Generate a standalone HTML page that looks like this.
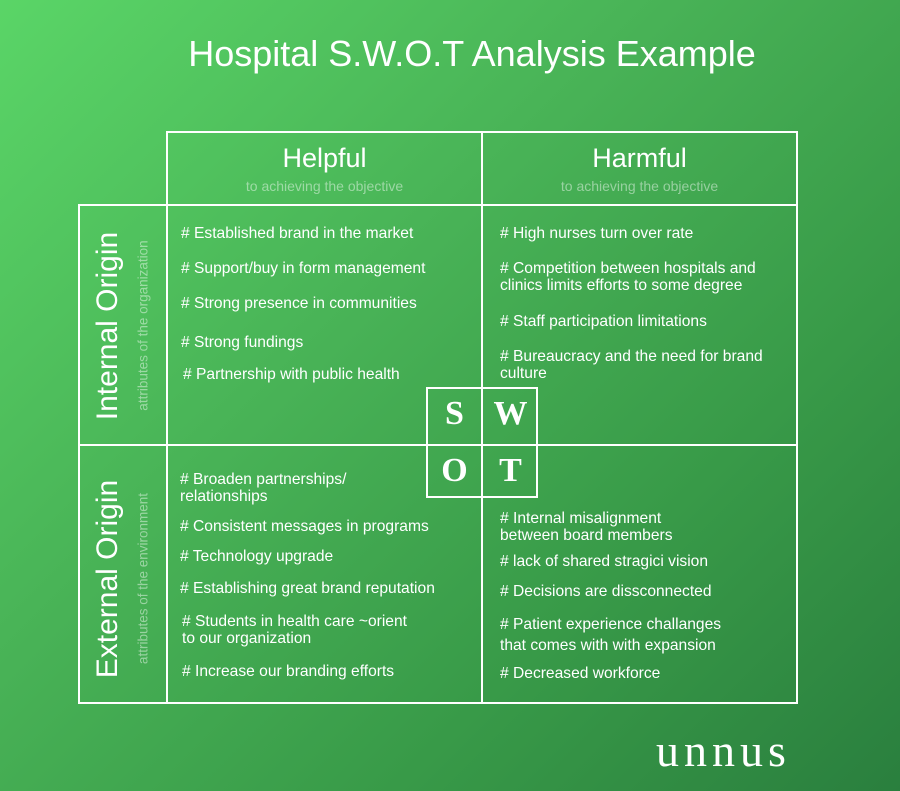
<!DOCTYPE html>
<html><head><style>
*{margin:0;padding:0;box-sizing:border-box}
body{width:900px;height:791px;overflow:hidden;position:relative;font-family:"Liberation Sans",sans-serif;color:#fff;
background:linear-gradient(135deg,#5ad567 0%,#48b256 40%,#389a48 70%,#2a7f3e 100%)}
.a{position:absolute;white-space:nowrap}
.l{position:absolute;background:#fff}
.t{font-size:15.6px;line-height:17px}
.h{font-size:27px;text-align:center;width:315px}
.s{font-size:14px;color:rgba(255,255,255,0.45);text-align:center;width:315px}
.v{position:absolute;transform:rotate(-90deg);transform-origin:center;text-align:center;width:400px}
.sw{position:absolute;font-family:"Liberation Serif",serif;font-weight:bold;font-size:34px;width:55px;text-align:center}
</style></head><body>
<div class="a" style="left:0;width:944px;top:33px;font-size:36px;text-align:center">Hospital S.W.O.T Analysis Example</div>
<div class="l" style="left:167px;top:131px;width:631px;height:2px"></div>
<div class="l" style="left:79px;top:204px;width:719px;height:2px"></div>
<div class="l" style="left:79px;top:444px;width:719px;height:2px"></div>
<div class="l" style="left:79px;top:702px;width:719px;height:2px"></div>
<div class="l" style="left:78px;top:204px;width:2px;height:500px"></div>
<div class="l" style="left:166px;top:131px;width:2px;height:573px"></div>
<div class="l" style="left:481px;top:131px;width:2px;height:573px"></div>
<div class="l" style="left:796px;top:131px;width:2px;height:573px"></div>
<div style="position:absolute;left:426px;top:387px;width:112px;height:111px;border:2px solid #fff"></div>
<div class="sw" style="left:427px;top:395px">S</div>
<div class="sw" style="left:483px;top:395px">W</div>
<div class="sw" style="left:427px;top:452px">O</div>
<div class="sw" style="left:483px;top:452px">T</div>
<div class="a h" style="left:167px;top:143px">Helpful</div>
<div class="a s" style="left:167px;top:178px">to achieving the objective</div>
<div class="a h" style="left:482px;top:143px">Harmful</div>
<div class="a s" style="left:482px;top:178px">to achieving the objective</div>
<div class="v" style="left:-92px;top:309px;font-size:30px;line-height:34px">Internal Origin</div>
<div class="v" style="left:-57px;top:318px;font-size:13.5px;color:rgba(255,255,255,0.45)">attributes of the organization</div>
<div class="v" style="left:-92px;top:562px;font-size:30px;line-height:34px">External Origin</div>
<div class="v" style="left:-57px;top:571px;font-size:13.5px;color:rgba(255,255,255,0.45)">attributes of the environment</div>
<div class="a t" style="left:181px;top:225px"># Established brand in the market</div>
<div class="a t" style="left:181px;top:260px"># Support/buy in form management</div>
<div class="a t" style="left:181px;top:295px"># Strong presence in communities</div>
<div class="a t" style="left:181px;top:334px"># Strong fundings</div>
<div class="a t" style="left:183px;top:366px"># Partnership with public health</div>
<div class="a t" style="left:500px;top:225px"># High nurses turn over rate</div>
<div class="a t" style="left:500px;top:260px"># Competition between hospitals and<br>clinics limits efforts to some degree</div>
<div class="a t" style="left:500px;top:313px"># Staff participation limitations</div>
<div class="a t" style="left:500px;top:348px"># Bureaucracy and the need for brand<br>culture</div>
<div class="a t" style="left:180px;top:471px"># Broaden partnerships/<br>relationships</div>
<div class="a t" style="left:180px;top:518px"># Consistent messages in programs</div>
<div class="a t" style="left:180px;top:548px"># Technology upgrade</div>
<div class="a t" style="left:180px;top:580px"># Establishing great brand reputation</div>
<div class="a t" style="left:182px;top:613px"># Students in health care ~orient<br>to our organization</div>
<div class="a t" style="left:182px;top:663px"># Increase our branding efforts</div>
<div class="a t" style="left:500px;top:510px"># Internal misalignment<br>between board members</div>
<div class="a t" style="left:500px;top:553px"># lack of shared stragici vision</div>
<div class="a t" style="left:500px;top:583px"># Decisions are dissconnected</div>
<div class="a t" style="left:500px;top:616px"># Patient experience challanges</div>
<div class="a t" style="left:500px;top:637px">that comes with with expansion</div>
<div class="a t" style="left:500px;top:665px"># Decreased workforce</div>
<div class="a" style="left:656px;top:728px;font-family:'Liberation Serif',serif;font-size:46px;line-height:46px;letter-spacing:5px">unnus</div>
</body></html>
